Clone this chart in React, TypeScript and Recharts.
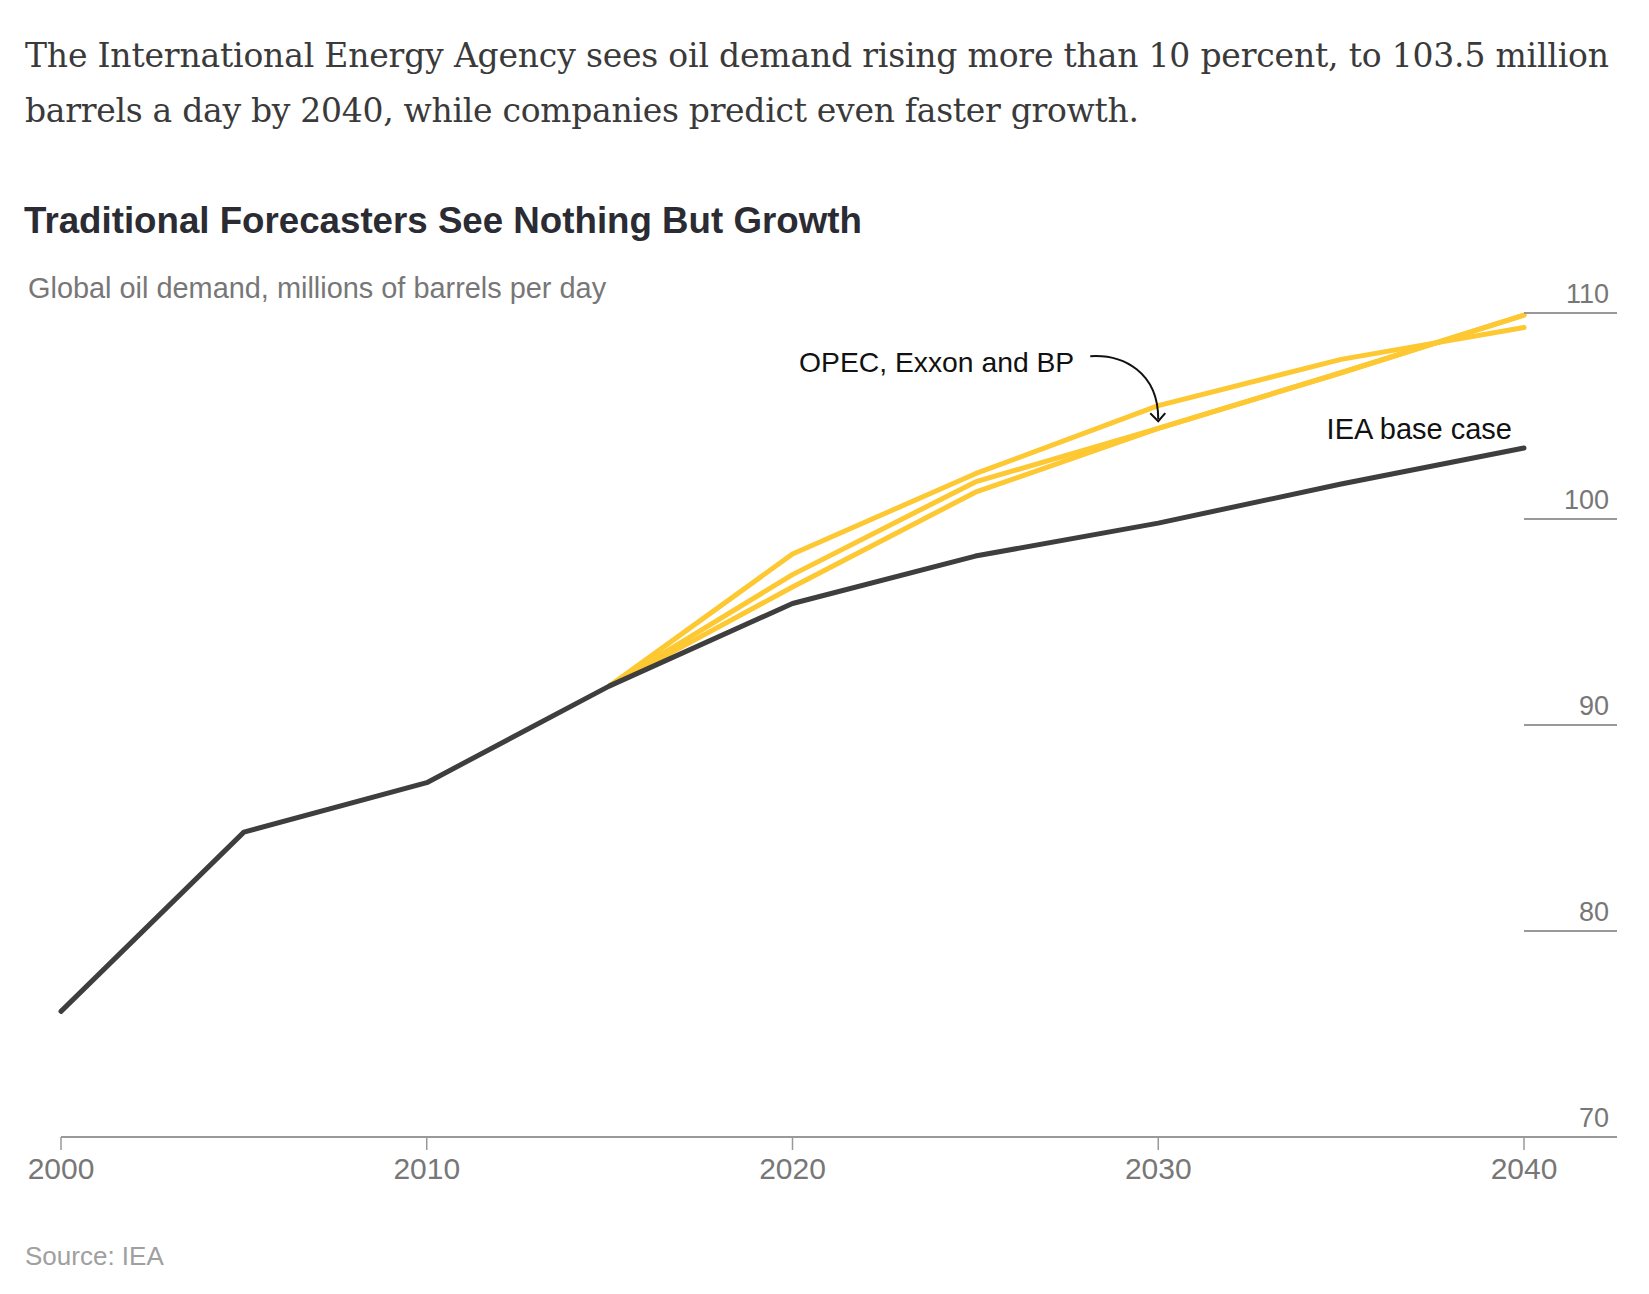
import { LineChart, Line, XAxis, YAxis, ReferenceDot } from 'recharts';

const YEARS = [2000, 2005, 2010, 2015, 2020, 2025, 2030, 2035, 2040];
const IEA_BASE = [76.1, 84.8, 87.2, 91.9, 95.9, 98.2, 99.8, 101.7, 103.45];
const FORECAST_A = [null, null, null, 91.9, 98.3, 102.2, 105.5, 107.75, 109.3];
const FORECAST_B = [null, null, null, 91.9, 97.3, 101.8, 104.4, 107.1, 109.9];
const FORECAST_C = [null, null, null, 91.9, 96.7, 101.3, 104.4, 107.1, 109.9];

const X_TICKS = [2000, 2010, 2020, 2030, 2040];
const Y_TICKS = [70, 80, 90, 100, 110];

const data = YEARS.map((year, i) => ({
  year,
  iea: IEA_BASE[i],
  a: FORECAST_A[i],
  b: FORECAST_B[i],
  c: FORECAST_C[i],
}));

const SANS = '"Liberation Sans", Arial, Helvetica, sans-serif';
const SERIF = '"DejaVu Serif", Georgia, serif';
const YELLOW = '#fdc832';
const DARK = '#3e3e3e';

// right-hand value ticks: short rule with the label sitting on top of it
function ValueTick(props: any) {
  const { x, y, payload } = props;
  return (
    <g>
      <line x1={x} x2={x + 93} y1={y} y2={y} stroke="#999" strokeWidth={2} />
      <text x={x + 85} y={y - 10} textAnchor="end" fontSize={27} fill="#777" fontFamily={SANS}>
        {payload.value}
      </text>
    </g>
  );
}

function ForecastNote(props: any) {
  const { cx, cy } = props;
  return (
    <g>
      <text x={cx - 84} y={cy - 50} textAnchor="end" fontSize={28.3} fill="#111" fontFamily={SANS}>
        OPEC, Exxon and BP
      </text>
      <path
        d={`M${cx - 68},${cy - 66} C${cx - 35},${cy - 68} ${cx},${cy - 50} ${cx},${cy - 3}`}
        fill="none"
        stroke="#111"
        strokeWidth={2}
      />
      <path d={`M${cx - 8},${cy - 9} L${cx},${cy - 1} L${cx + 7},${cy - 9}`} fill="none" stroke="#111" strokeWidth={2} />
    </g>
  );
}

function BaseNote(props: any) {
  const { cx, cy } = props;
  return (
    <text x={cx - 12} y={cy - 9} textAnchor="end" fontSize={29} fill="#111" fontFamily={SANS}>
      IEA base case
    </text>
  );
}

export default function App() {
  return (
    <div style={{ position: 'relative', width: 1649, height: 1294, background: '#fff' }}>
      <style>{'body{margin:0}'}</style>
      <svg width={1649} height={1294} style={{ position: 'absolute', left: 0, top: 0 }}>
        <text x={25} y={67} fontSize={33} fill="#3a3a3a" fontFamily={SERIF} textLength={1584} lengthAdjust="spacing">
          The International Energy Agency sees oil demand rising more than 10 percent, to 103.5 million
        </text>
        <text x={25} y={122} fontSize={33} fill="#3a3a3a" fontFamily={SERIF} textLength={1114} lengthAdjust="spacing">
          barrels a day by 2040, while companies predict even faster growth.
        </text>
        <text x={24} y={233} fontSize={36.7} fontWeight="bold" fill="#2b2b33" fontFamily={SANS}>
          Traditional Forecasters See Nothing But Growth
        </text>
        <text x={28} y={298} fontSize={28.9} fill="#777" fontFamily={SANS}>
          Global oil demand, millions of barrels per day
        </text>
        <text x={25} y={1265} fontSize={26} fill="#a0a0a0" fontFamily={SANS}>
          Source: IEA
        </text>
      </svg>
      <div style={{ position: 'absolute', left: 0, top: 0 }}>
        <LineChart width={1649} height={1294} data={data} margin={{ top: 313, right: 32, bottom: 97, left: 61 }}>
          <XAxis
            dataKey="year"
            type="number"
            domain={[2000, 2040]}
            ticks={X_TICKS}
            tickSize={13}
            tickMargin={8}
            height={60}
            axisLine={{ stroke: '#999', strokeWidth: 2 }}
            tickLine={{ stroke: '#999', strokeWidth: 1.5 }}
            tick={{ fontSize: 30, fill: '#777', fontFamily: SANS }}
          />
          <YAxis
            orientation="right"
            type="number"
            domain={[70, 110]}
            ticks={Y_TICKS}
            width={93}
            axisLine={false}
            tickLine={false}
            tickSize={0}
            tickMargin={0}
            tick={<ValueTick />}
          />
          <Line dataKey="a" stroke={YELLOW} strokeWidth={5} dot={false} strokeLinecap="round" strokeLinejoin="round" isAnimationActive={false} />
          <Line dataKey="b" stroke={YELLOW} strokeWidth={5} dot={false} strokeLinecap="round" strokeLinejoin="round" isAnimationActive={false} />
          <Line dataKey="c" stroke={YELLOW} strokeWidth={5} dot={false} strokeLinecap="round" strokeLinejoin="round" isAnimationActive={false} />
          <Line dataKey="iea" stroke={DARK} strokeWidth={5} dot={false} strokeLinecap="round" strokeLinejoin="round" isAnimationActive={false} />
          <ReferenceDot x={2030} y={104.7} shape={<ForecastNote />} />
          <ReferenceDot x={2040} y={103.45} shape={<BaseNote />} />
        </LineChart>
      </div>
    </div>
  );
}
